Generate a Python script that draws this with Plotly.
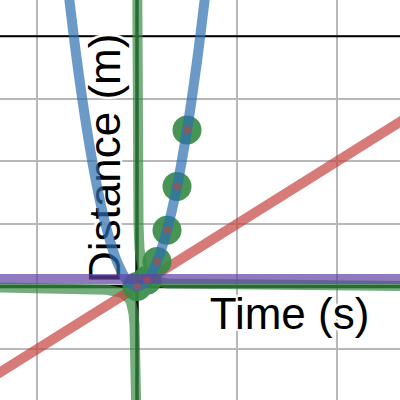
import plotly.graph_objects as go

# ---- data ----
time_pts = [0, 0.1, 0.2, 0.3, 0.4, 0.5]
dist_pts = [0, 0.1, 0.4, 0.9, 1.6, 2.5]

parab_x = [-0.7, -0.6, -0.5, -0.4, -0.3, -0.2, -0.1, 0, 0.1, 0.2, 0.3, 0.4, 0.5, 0.6, 0.7]
parab_y = [4.9, 3.6, 2.5, 1.6, 0.9, 0.4, 0.1, 0, 0.1, 0.4, 0.9, 1.6, 2.5, 3.6, 4.9]

line_x = [-1.5, 2.8]
line_y = [-1.5, 2.8]

hyp_x_neg = [-1.5, -0.6, -0.3, -0.15, -0.1, -0.075, -0.06, -0.045, -0.035, -0.025, -0.015, -0.008]
hyp_y_neg = [-0.01, -0.025, -0.05, -0.1, -0.15, -0.2, -0.25, -0.33, -0.43, -0.6, -1.0, -1.9]
hyp_x_pos = [2.8, 1.0, 0.3, 0.15, 0.1, 0.06, 0.04, 0.025, 0.015, 0.008, 0.0033]
hyp_y_pos = [0.005, 0.015, 0.05, 0.1, 0.15, 0.25, 0.375, 0.6, 1.0, 1.9, 4.6]

flat_x = [-1.5, 2.8]
flat_y = [0.12, 0.12]

top_level = 4
x_label = "Time (s)"
y_label = "Distance (m)"

BLUE = "#2d70b3"
RED = "#c74440"
GREEN = "#388c46"
PURPLE = "#6042a6"
FONT = "Liberation Sans, Arial, sans-serif"
HALO = ("white 2px 0px 1px, white -2px 0px 1px, white 0px 2px 1px, white 0px -2px 1px, "
        "white 2px 2px 1px, white -2px -2px 1px, white 2px -2px 1px, white -2px 2px 1px")

fig = go.Figure()

# dark axis lines (under translucent green)
fig.add_trace(go.Scatter(x=[-1.5, 2.8], y=[0, 0], mode="lines",
                         line=dict(color="#0a1a0d", width=3.5), hoverinfo="skip"))
fig.add_trace(go.Scatter(x=[0, 0], y=[-2, 5], mode="lines",
                         line=dict(color="#0a1a0d", width=3.5), hoverinfo="skip"))

# green hyperbola-like curve
fig.add_trace(go.Scatter(x=hyp_x_neg, y=hyp_y_neg, mode="lines",
                         line=dict(color=GREEN, width=10), opacity=0.7))
fig.add_trace(go.Scatter(x=hyp_x_pos, y=hyp_y_pos, mode="lines",
                         line=dict(color=GREEN, width=10), opacity=0.7))

# red line
fig.add_trace(go.Scatter(x=line_x, y=line_y, mode="lines",
                         line=dict(color=RED, width=10), opacity=0.7))

# green points
fig.add_trace(go.Scatter(x=time_pts, y=dist_pts, mode="markers",
                         marker=dict(color=GREEN, size=29, line=dict(width=0)), opacity=0.92))

# blue parabola
fig.add_trace(go.Scatter(x=parab_x, y=parab_y, mode="lines",
                         line=dict(color=BLUE, width=10, shape="spline"), opacity=0.7))

# purple flat line
fig.add_trace(go.Scatter(x=flat_x, y=flat_y, mode="lines",
                         line=dict(color=PURPLE, width=10), opacity=0.7))

# red small points
fig.add_trace(go.Scatter(x=time_pts, y=dist_pts, mode="markers",
                         marker=dict(color=RED, size=8, line=dict(width=0)), opacity=0.55))

shapes = [
    dict(type="line", xref="x", yref="y", x0=-1.5, x1=2.8, y0=top_level, y1=top_level,
         line=dict(color="black", width=2), layer="between"),
    dict(type="rect", xref="x", yref="y", x0=1.0, x1=2.05, y0=-0.55, y1=-0.166,
         line=dict(width=0), fillcolor="rgba(0,0,0,0)", layer="between",
         label=dict(text=x_label, textposition="middle center",
                    font=dict(family=FONT, size=44, color="black", shadow=HALO))),
    dict(type="rect", xref="x", yref="y", x0=-0.53, x1=-0.2, y0=0.1, y1=4.0,
         line=dict(width=0), fillcolor="rgba(0,0,0,0)", layer="between",
         label=dict(text=y_label, textposition="middle center", textangle=-90,
                    font=dict(family=FONT, size=44, color="black", shadow=HALO))),
]

fig.update_layout(
    width=400, height=400,
    margin=dict(l=0, r=0, t=0, b=0),
    paper_bgcolor="white", plot_bgcolor="white",
    showlegend=False,
    shapes=shapes,
    xaxis=dict(range=[-1.37, 2.63], dtick=1, tick0=0, showgrid=True,
               gridcolor="#b8b8b8", gridwidth=2, zeroline=False,
               showticklabels=False, showline=False, ticks=""),
    yaxis=dict(range=[-1.811, 4.578], dtick=1, tick0=0, showgrid=True,
               gridcolor="#b8b8b8", gridwidth=2, zeroline=False,
               showticklabels=False, showline=False, ticks=""),
)

fig.write_html("out.html", config={"displayModeBar": False},
               post_script="document.body.style.margin='0';document.body.style.overflow='hidden';")
